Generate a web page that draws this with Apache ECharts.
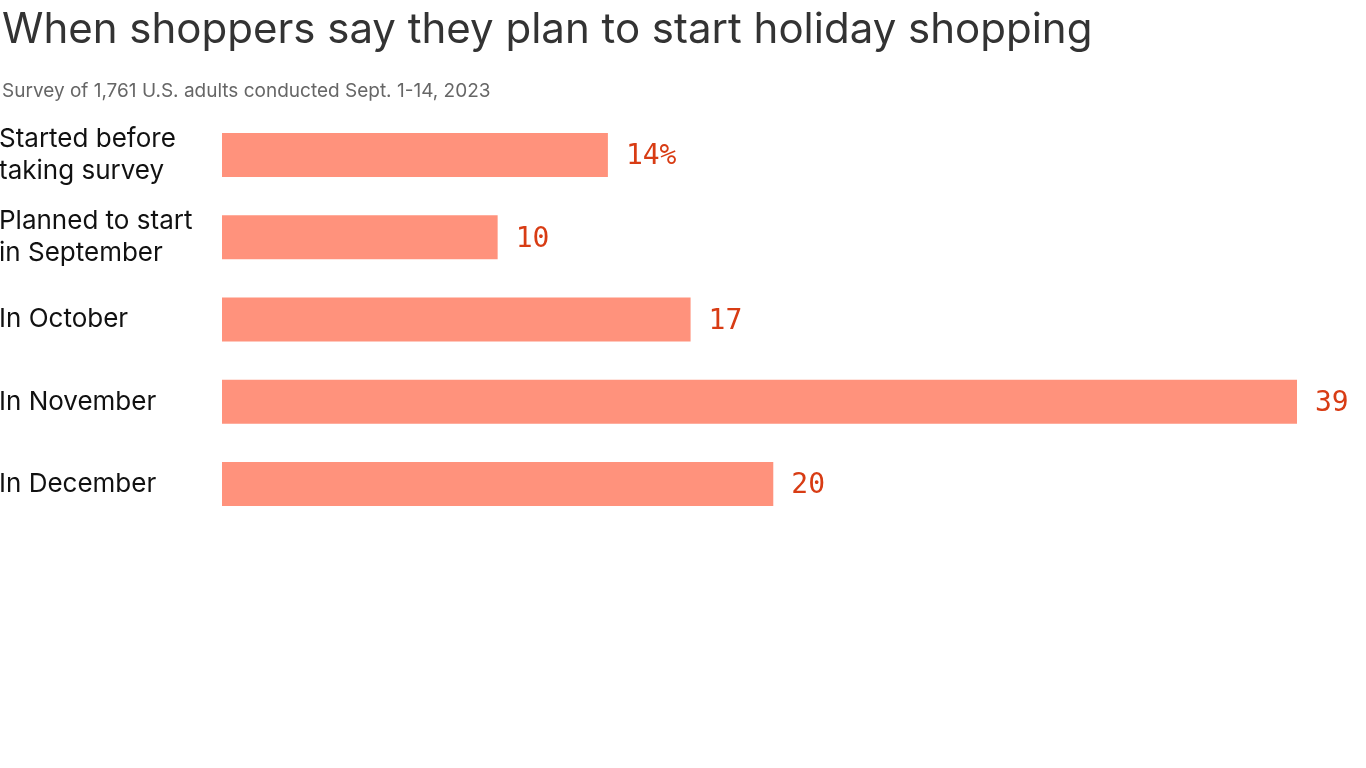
<!DOCTYPE html>
<html>
<head>
<meta charset="utf-8">
<script src="https://cdn.jsdelivr.net/npm/echarts@6/dist/echarts.min.js"></script>
<style>
  html, body { margin: 0; padding: 0; background: #fff; }
  #chart { width: 1366px; height: 768px; }
</style>
</head>
<body>
<div id="chart"></div>
<script>
const categories = ["Started before\ntaking survey", "Planned to start\nin September", "In October", "In November", "In December"];
const shares = [14, 10, 17, 39, 20];

const chart = echarts.init(document.getElementById("chart"), null, { renderer: "canvas" });
chart.setOption({
  animation: false,
  title: {
    text: "When shoppers say they plan to start holiday shopping",
    subtext: "Survey of 1,761 U.S. adults conducted Sept. 1-14, 2023",
    left: -3,
    top: 4,
    itemGap: 31,
    textStyle: { fontFamily: "Inter", fontSize: 42, fontWeight: "normal", color: "#333" },
    subtextStyle: { fontFamily: "Inter", fontSize: 19, color: "#666" }
  },
  grid: { left: 222, right: 69, top: 114, bottom: 243, outerBoundsMode: "none", containLabel: false },
  xAxis: { type: "value", min: 0, max: 39, show: false },
  yAxis: {
    type: "category",
    data: categories,
    inverse: true,
    axisLine: { show: false },
    axisTick: { show: false },
    axisLabel: {
      align: "left",
      margin: 223,
      fontFamily: "Inter",
      fontSize: 26,
      lineHeight: 32,
      color: "#111",
      padding: [9, 0, 0, 0]
    }
  },
  series: [{
    type: "bar",
    data: shares,
    barWidth: 44,
    itemStyle: { color: "#ff927c" },
    label: {
      show: true,
      position: "right",
      distance: 18,
      offset: [0, 2],
      fontFamily: "DejaVu Sans Mono",
      fontSize: 28,
      color: "#d83c14",
      formatter: p => p.dataIndex === 0 ? p.value + "%" : String(p.value)
    }
  }]
});
</script>
</body>
</html>
